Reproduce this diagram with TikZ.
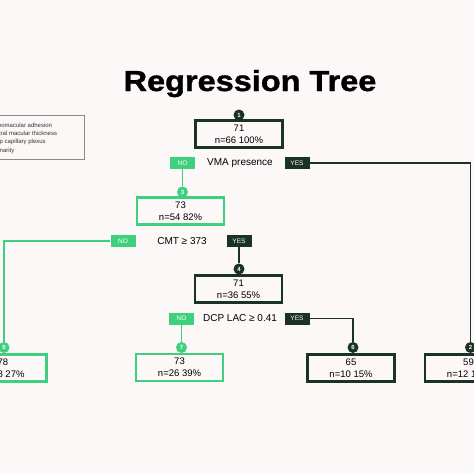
\documentclass[tikz,border=0pt]{standalone}
\usepackage{fontspec}
\setmainfont{Liberation Sans}
\newfontfamily\titlefont[FakeBold=1.2]{Liberation Sans Bold}
\definecolor{dk}{HTML}{1B3325}
\definecolor{gr}{HTML}{3FD07E}
\definecolor{bg}{HTML}{FBF8F7}
\definecolor{lg}{HTML}{8A8A8A}
\begin{document}
\begin{tikzpicture}[x=1pt,y=-1pt,
  box/.style={line width=2.6pt, minimum width=87pt, minimum height=27pt, inner sep=0pt, align=center, font=\fontsize{9.5}{12}\selectfont},
  numc/.style={circle, inner sep=0pt, minimum size=11pt, text=white, font=\fontsize{6}{6}\selectfont\bfseries},
  tag/.style={minimum width=25pt, minimum height=12pt, inner sep=0pt, text=white, font=\fontsize{6.5}{6.5}\selectfont},
  cond/.style={font=\fontsize{10}{12}\selectfont},
  legtxt/.style={anchor=base west, inner sep=0pt, font=\fontsize{6}{7}\selectfont, text=black!80},
  dline/.style={draw=dk, line width=1.3pt},
  gline/.style={draw=gr, line width=1.3pt}]
\useasboundingbox (0,0) rectangle (474,474);
\fill[bg] (0,0) rectangle (474,474);
\clip (0,0) rectangle (474,474);
% title
\node[anchor=base, inner sep=0pt, font=\titlefont\fontsize{29}{32}\selectfont] (title) at (250,91) {\scalebox{1.12}[1]{Regression Tree}};
% legend
\draw[lg, line width=0.7pt] (-10,115) rectangle (84,159);
\node[legtxt] (l1) at (-26.5,127) {VMA: vitreomacular adhesion};
\node[legtxt] (l2) at (-26.5,135.3) {CMT: central macular thickness};
\node[legtxt] (l3) at (-26.5,143.6) {DCP: deep capillary plexus};
\node[legtxt] (l4) at (-26.5,152) {LAC: lacunarity};
% nodes
\node[box, draw=dk] (n1) at (239,134) {71\\n=66 100\%};
\node[numc, fill=dk] (c1) at (239,115) {1};
\node[tag, fill=gr] (no1) at (182.5,163) {NO};
\node[cond] (q1) at (240,163) {VMA presence};
\node[tag, fill=dk] (yes1) at (297,163) {YES};
\node[box, draw=gr] (n3) at (180.5,211) {73\\n=54 82\%};
\node[numc, fill=gr] (c3) at (182.5,192) {3};
\node[tag, fill=gr] (no2) at (123,241) {NO};
\node[cond] (q2) at (182,241) {CMT ≥ 373};
\node[tag, fill=dk] (yes2) at (239,241) {YES};
\node[box, draw=dk] (n4) at (238.5,289) {71\\n=36 55\%};
\node[numc, fill=dk] (c4) at (239,269) {4};
\node[tag, fill=gr] (no3) at (181.5,318.5) {NO};
\node[cond] (q3) at (240,318.5) {DCP LAC ≥ 0.41};
\node[tag, fill=dk] (yes3) at (297,318.5) {YES};
\node[box, draw=gr] (n7) at (179.5,367.5) {73\\n=26 39\%};
\node[numc, fill=gr] (c7) at (181.5,347.5) {7};
\node[box, draw=dk] (n6) at (351,368) {65\\n=10 15\%};
\node[numc, fill=dk] (c6) at (353,347.5) {6};
\node[box, draw=dk] (n2) at (468.5,368) {59\\n=12 18\%};
\node[numc, fill=dk] (c2) at (470.5,347.5) {2};
\node[box, draw=gr] (n5) at (3,368) {78\\n=18 27\%};
\node[numc, fill=gr] (c5) at (4,347.5) {5};
% connectors
\draw[gline] (no1.south) -- (c3.north);
\draw[dline] (yes1.east) -| (c2.north);
\draw[gline] (no2.west) -| (c5.north);
\draw[dline] (yes2.south) -- (c4.north);
\draw[gline] (no3.south) -- (c7.north);
\draw[dline] (yes3.east) -| (c6.north);
\end{tikzpicture}
\end{document}
